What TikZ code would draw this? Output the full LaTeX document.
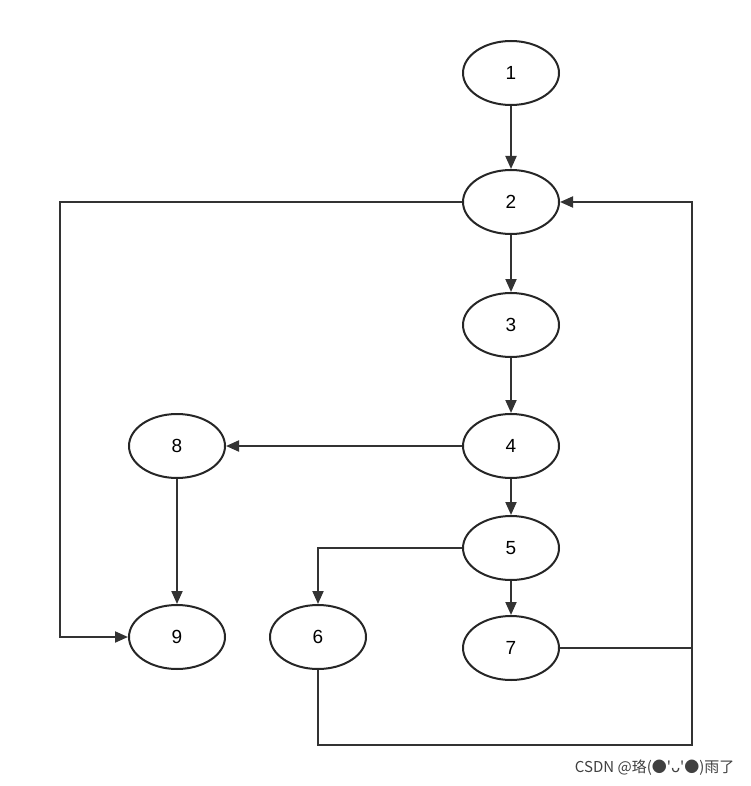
\documentclass[tikz,border=0pt]{standalone}
\usepackage{fontspec}
\setmainfont{Liberation Sans}
\newfontfamily\cjk{Noto Sans CJK SC}
\newfontfamily\dejavu{DejaVu Sans}
\usetikzlibrary{arrows.meta,shapes.geometric}
\begin{document}
\begin{tikzpicture}[x=1pt,y=-1pt,
  nd/.style={draw=black!85,line width=2pt,ellipse,minimum width=96pt,minimum height=64pt,inner sep=0pt,font=\fontsize{19}{22}\selectfont},
  ar/.style={draw=black!80,line width=2pt,-{Triangle[length=13pt,width=11pt]}},
  ln/.style={draw=black!80,line width=2pt}]
\useasboundingbox (0,0) rectangle (751,786);
\node[nd] (n1) at (511,73) {1};
\node[nd] (n2) at (511,202) {2};
\node[nd] (n3) at (511,325) {3};
\node[nd] (n4) at (511,446) {4};
\node[nd] (n5) at (511,548) {5};
\node[nd] (n7) at (511,648) {7};
\node[nd] (n8) at (177,446) {8};
\node[nd] (n9) at (177,637) {9};
\node[nd] (n6) at (318,637) {6};
\coordinate (a) at (60,202);
\coordinate (b) at (60,637);
\coordinate (c) at (318,548);
\coordinate (d) at (692,648);
\coordinate (e) at (692,202);
\coordinate (f) at (318,745);
\coordinate (g) at (692,745);
\draw[ar] (n1) -- (n2);
\draw[ar] (n2) -- (n3);
\draw[ar] (n3) -- (n4);
\draw[ar] (n4) -- (n5);
\draw[ar] (n5) -- (n7);
\draw[ar] (n4) -- (n8);
\draw[ar] (n8) -- (n9);
\draw[ar] (n2.west) -- (a) -- (b) -- (n9.west);
\draw[ar] (n5.west) -- (c) -- (n6.north);
\draw[ar] (n7.east) -- (d) -- (e) -- (n2.east);
\draw[ln] (n6.south) -- (f) -- (g) -- (d);
\node[font=\cjk\fontsize{15}{18}\selectfont,text=black!75,anchor=east] (wm) at (738,768) {CSDN @珞(●'{\dejavu ᴗ}'●)雨了};
\end{tikzpicture}
\end{document}
